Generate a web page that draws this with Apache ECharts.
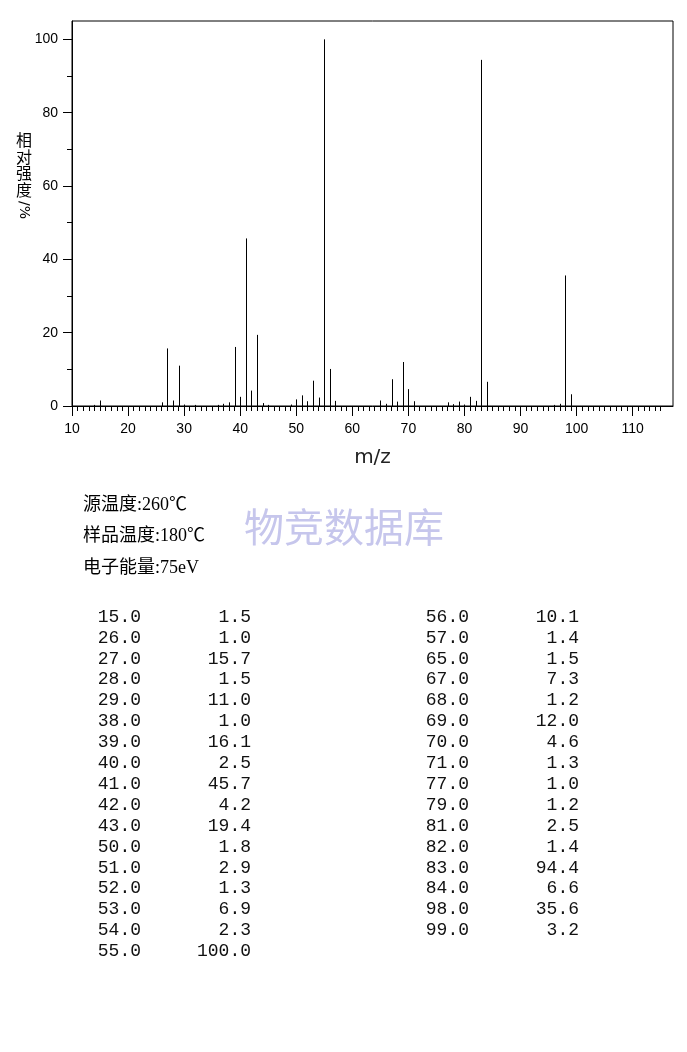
<!DOCTYPE html>
<html>
<head>
<meta charset="utf-8">
<script src="https://cdn.jsdelivr.net/npm/echarts@6/dist/echarts.min.js"></script>
<style>
html,body{margin:0;padding:0;background:#fff;}
#main{width:687px;height:1052px;}
</style>
</head>
<body>
<div id="main"></div>
<script>
// Tabulated peaks (m/z, relative intensity %)
var tableMz = [15,26,27,28,29,38,39,40,41,42,43,50,51,52,53,54,55,56,57,65,67,68,69,70,71,77,79,81,82,83,84,98,99];
var tableInt = [1.5,1.0,15.7,1.5,11.0,1.0,16.1,2.5,45.7,4.2,19.4,1.8,2.9,1.3,6.9,2.3,100.0,10.1,1.4,1.5,7.3,1.2,12.0,4.6,1.3,1.0,1.2,2.5,1.4,94.4,6.6,35.6,3.2];
// Small peaks visible only in the plot (estimated)
var minorMz = [14,30,32,36,37,44,45,49,66,78,80,96,97];
var minorInt = [0.3,0.4,0.3,0.3,0.6,0.8,0.3,0.4,0.6,0.5,0.4,0.3,0.6];
// Axis ticks
var xMajorTicks = [10,20,30,40,50,60,70,80,90,100,110];
var yMajorTicks = [0,20,40,60,80,100];
var yMinorTicks = [10,30,50,70,90];
// Info lines
var infoLines = ['源温度:260℃','样品温度:180℃','电子能量:75eV'];
var watermark = '物竞数据库';
var yName = '相\n对\n强\n度';
var yNameUnit = '/%';
var xName = 'm/z';

var xMinorTicks = [];
for (var t = 10; t <= 115; t++) xMinorTicks.push(t);

var peaks = [];
for (var i = 0; i < tableMz.length; i++) peaks.push([tableMz[i], tableInt[i]]);
for (var j = 0; j < minorMz.length; j++) peaks.push([minorMz[j], minorInt[j]]);

var chart = echarts.init(document.getElementById('main'), null, {renderer:'canvas'});

var graphics = [];
graphics.push({type:'text', left:16, top:132, style:{text:yName, font:'16px "Noto Sans CJK SC"', lineHeight:16.5, fill:'#000'}});
graphics.push({type:'text', x:24, y:210, rotation:-Math.PI/2, style:{text:yNameUnit, font:'14px "DejaVu Sans"', fill:'#000', align:'center', verticalAlign:'middle'}});
var infoY = [505, 536, 568];
infoLines.forEach(function(s, k){
  graphics.push({type:'text', x:83, y:infoY[k], style:{text:s, font:'18px "Liberation Serif","Noto Sans CJK SC"', fill:'#000', verticalAlign:'middle'}});
});
graphics.push({type:'text', x:344, y:527, style:{text:watermark, font:'40px "Noto Sans CJK SC"', fill:'#c6c6ec', align:'center', verticalAlign:'middle'}});

var leftRows = 17;
for (var r = 0; r < tableMz.length; r++) {
  var col = r < leftRows ? 0 : 1;
  var row = col === 0 ? r : r - leftRows;
  var xm = col === 0 ? 141 : 469;
  var xv = col === 0 ? 251 : 579;
  var yy = 617 + row * 20.9;
  graphics.push({type:'text', x:xm, y:yy, style:{text:tableMz[r].toFixed(1), font:'18px "Liberation Mono"', fill:'#111', align:'right', verticalAlign:'middle'}});
  graphics.push({type:'text', x:xv, y:yy, style:{text:tableInt[r].toFixed(1), font:'18px "Liberation Mono"', fill:'#111', align:'right', verticalAlign:'middle'}});
}

var option = {
  animation:false,
  backgroundColor:'#fff',
  grid:{left:72, right:14, top:21, height:385, show:true, borderColor:'#000', borderWidth:1, containLabel:false},
  xAxis:[
    {type:'value', min:10, max:117.2, position:'bottom',
     axisLine:{show:true, onZero:false, lineStyle:{color:'#000', width:1}},
     axisTick:{show:true, length:10, customValues:xMajorTicks, lineStyle:{color:'#000'}},
     axisLabel:{show:true, customValues:xMajorTicks, margin:16, fontSize:14, fontFamily:'Liberation Sans', color:'#000'},
     splitLine:{show:false},
     name:xName, nameLocation:'middle', nameGap:42, nameTextStyle:{fontSize:20, fontFamily:'DejaVu Sans', color:'#222'}},
    {type:'value', min:10, max:117.2, position:'bottom',
     axisLine:{show:false},
     axisTick:{show:true, length:5, customValues:xMinorTicks, lineStyle:{color:'#000'}},
     axisLabel:{show:false}, splitLine:{show:false}}
  ],
  yAxis:[
    {type:'value', min:0, max:105, position:'left',
     axisLine:{show:true, onZero:false, lineStyle:{color:'#000', width:1}},
     axisTick:{show:true, length:9, customValues:yMajorTicks, lineStyle:{color:'#000'}},
     axisLabel:{show:true, customValues:yMajorTicks, margin:14, fontSize:14, fontFamily:'Liberation Sans', color:'#000'},
     splitLine:{show:false}},
    {type:'value', min:0, max:105, position:'left',
     axisLine:{show:false},
     axisTick:{show:true, length:5, customValues:yMinorTicks, lineStyle:{color:'#000'}},
     axisLabel:{show:false}, splitLine:{show:false}}
  ],
  series:[{
    type:'custom', xAxisIndex:0, yAxisIndex:0, data:peaks, clip:false,
    renderItem:function(params, api){
      var p0 = api.coord([api.value(0), 0]);
      var p1 = api.coord([api.value(0), api.value(1)]);
      var x = Math.round(p0[0]) + 0.5;
      return {type:'line', shape:{x1:x, y1:p0[1], x2:x, y2:p1[1]}, style:{stroke:'#000', lineWidth:1}};
    }
  }],
  graphic:graphics
};
chart.setOption(option);
</script>
</body>
</html>
